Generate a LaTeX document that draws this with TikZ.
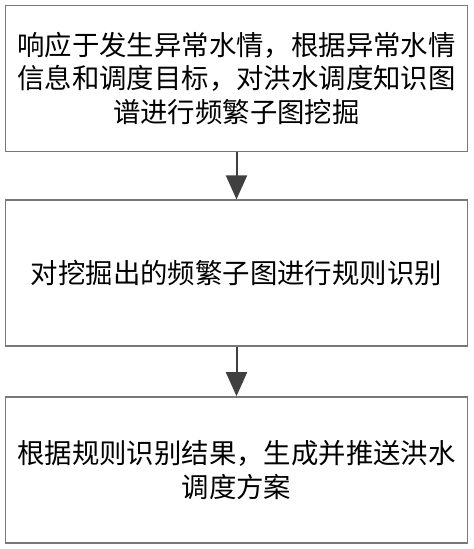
\documentclass[tikz,border=0pt]{standalone}
\usepackage{fontspec}
\newfontfamily\cjk{Noto Sans CJK SC}
\usetikzlibrary{arrows.meta,positioning}
\definecolor{BoxGray}{RGB}{120,120,120}
\definecolor{ArrowGray}{RGB}{64,64,64}

\begin{document}
\begin{tikzpicture}[x=1pt, y=1pt,
    box/.style={draw=BoxGray, line width=1.8pt, minimum width=462pt, minimum height=146pt, text width=450pt, align=center, font=\cjk\fontsize{27.4pt}{33.5pt}\selectfont},
    arr/.style={-{Triangle[length=24pt, width=21pt]}, line width=2pt, ArrowGray}
  ]
  \useasboundingbox (0,0) rectangle (474,-549);
  \node[box] (mine) at (236.5,-78.5) {响应于发生异常水情，根据异常水情\\信息和调度目标，对洪水调度知识图\\谱进行频繁子图挖掘};
  \node[box, below=47pt of mine] (rule) {对挖掘出的频繁子图进行规则识别};
  \node[box, below=49pt of rule] (plan) {根据规则识别结果，生成并推送洪水\\调度方案};
  \draw[arr] (mine) -- (rule);
  \draw[arr] (rule) -- (plan);
\end{tikzpicture}
\end{document}
